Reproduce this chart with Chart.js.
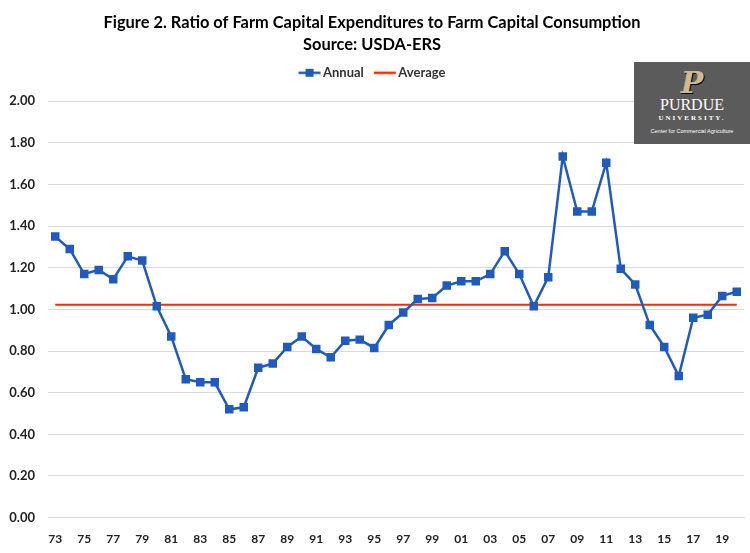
<!DOCTYPE html>
<html>
<head>
<meta charset="utf-8">
<script src="https://cdn.jsdelivr.net/npm/chart.js@4/dist/chart.umd.min.js"></script>
<style>
html,body{margin:0;padding:0;background:#fff;}
#wrap{position:relative;width:750px;height:553px;}
#logo{position:absolute;left:634px;top:62px;width:116px;height:82px;background:#5b5b5b;color:#fff;text-align:center;font-family:"DejaVu Serif",serif;}
#logo .p{position:absolute;left:0;right:0;top:6px;font-family:"DejaVu Serif",serif;font-weight:bold;font-style:italic;font-size:30px;color:#cfb991;line-height:30px;text-shadow:1px 1px 0 #000;}
#logo .n{position:absolute;left:0;right:0;top:35px;font-size:16px;line-height:16px;font-family:"Liberation Serif",serif;}
#logo .u{position:absolute;left:0;right:0;top:52px;font-size:7px;line-height:8px;letter-spacing:2px;font-family:"Liberation Serif",serif;font-weight:bold;}
#logo .c{position:absolute;left:0;right:0;top:66px;font-size:5.5px;line-height:7px;font-family:"Liberation Sans Narrow","Liberation Sans",sans-serif;}
</style>
</head>
<body>
<div id="wrap">
<canvas id="c" width="750" height="553"></canvas>
<div id="logo"><div class="p">P</div><div class="n">PURDUE</div><div class="u">UNIVERSITY.</div><div class="c">Center for Commercial Agriculture</div></div>
</div>
<script>
const categories = ["73","74","75","76","77","78","79","80","81","82","83","84","85","86","87","88","89","90","91","92","93","94","95","96","97","98","99","00","01","02","03","04","05","06","07","08","09","10","11","12","13","14","15","16","17","18","19","20"];
const annualValues = [1.35,1.29,1.17,1.19,1.145,1.255,1.235,1.015,0.87,0.665,0.65,0.65,0.52,0.53,0.72,0.74,0.82,0.87,0.81,0.77,0.85,0.855,0.815,0.925,0.985,1.05,1.055,1.115,1.135,1.135,1.17,1.28,1.17,1.015,1.155,1.735,1.47,1.47,1.705,1.195,1.12,0.925,0.82,0.68,0.96,0.975,1.065,1.085];
const averageValue = 1.022;
const averageValues = categories.map(() => averageValue);
const yTickLabels = ["0.00","0.20","0.40","0.60","0.80","1.00","1.20","1.40","1.60","1.80","2.00"];

const BLUE = "#1f5bbf";
const RED = "#ff2a00";

function legendIcon(color, marker){
  const cv = document.createElement('canvas');
  cv.width = 30; cv.height = 10;
  const g = cv.getContext('2d');
  g.strokeStyle = color; g.lineWidth = 2.5;
  g.beginPath(); g.moveTo(6,5); g.lineTo(28,5); g.stroke();
  if (marker){ g.fillStyle = color; g.fillRect(13,1,8,8); }
  return cv;
}
const iconAnnual = legendIcon(BLUE, true);
const iconAverage = legendIcon(RED, false);

const legendMargin = {
  id:'legendMargin',
  beforeInit(chart){
    const orig = chart.legend.fit;
    chart.legend.fit = function(){ orig.call(this); this.height += 12; };
  }
};

new Chart(document.getElementById('c'), {
  type: 'line',
  data: {
    labels: categories,
    datasets: [
      {label:'Annual', data: annualValues, borderColor: BLUE, backgroundColor: BLUE, borderWidth: 2.5,
       pointStyle:'rect', pointRadius:6, pointBorderWidth:0, pointBackgroundColor: BLUE, tension:0},
      {label:'Average', data: averageValues, borderColor: RED, backgroundColor: RED, borderWidth: 2,
       pointRadius:0, tension:0}
    ]
  },
  plugins:[legendMargin],
  options: {
    responsive:false, animation:false,
    layout:{padding:{left:0,right:6,top:0,bottom:1}},
    plugins:{
      title:{display:true, text:["Figure 2. Ratio of Farm Capital Expenditures to Farm Capital Consumption","Source: USDA-ERS"],
        color:"#000", font:{family:"Lato", size:16.4, weight:"bold", lineHeight:1.35}, padding:{top:12,bottom:0}},
      legend:{display:true, position:'top',
        labels:{color:"#333", font:{family:"Lato", size:13, weight:"bold"}, usePointStyle:true, pointStyleWidth:18, boxHeight:10, padding:10,
          generateLabels(chart){
            return chart.data.datasets.map((d,i)=>({text:d.label, pointStyle: i===0?iconAnnual:iconAverage, fillStyle:d.borderColor, strokeStyle:d.borderColor, lineWidth:0, hidden:false, datasetIndex:i, fontColor:"#333"}));
          }}},
      tooltip:{enabled:false}
    },
    scales:{
      x:{offset:true, grid:{display:false, offset:true}, border:{display:true,color:"#d9d9d9",width:1},
        ticks:{autoSkip:false, maxRotation:0, minRotation:0, padding:6, color:"#222", font:{family:"Lato",size:12,weight:"bold"},
          callback(v,i){ return i%2===0 ? categories[i] : ""; }}},
      y:{min:0,max:2, afterFit(s){ s.width = 48; },
        grid:{color:"#d9d9d9", lineWidth:1, drawTicks:false}, border:{display:false},
        ticks:{stepSize:0.2, padding:13, color:"#222", font:{family:"Lato",size:13,weight:"bold"},
          callback(v){ const i = Math.round(v/0.2); return yTickLabels[i]; }}}
    }
  }
});
</script>
</body>
</html>
